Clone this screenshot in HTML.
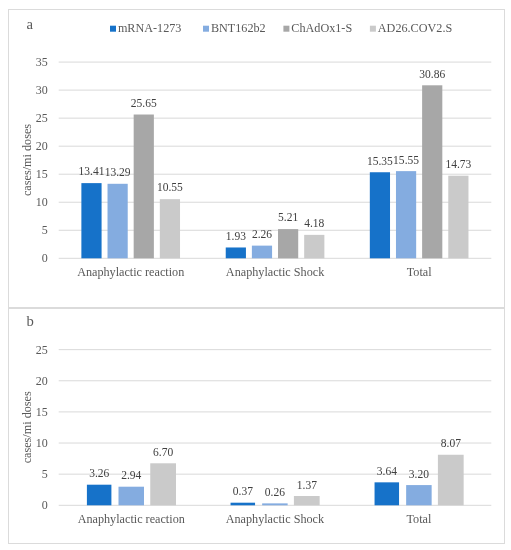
<!DOCTYPE html>
<html><head><meta charset="utf-8"><title>Chart</title>
<style>html,body{margin:0;padding:0;background:#fff}svg{display:block}</style></head>
<body>
<svg width="511" height="550" viewBox="0 0 511 550" font-family="'Liberation Serif', serif" font-size="12px">
<rect x="0" y="0" width="511" height="550" fill="#fff"/>
<rect x="8.5" y="9.5" width="496" height="298" fill="none" stroke="#dbdbdb" stroke-width="1"/>
<rect x="8.5" y="308.5" width="496" height="235" fill="none" stroke="#dbdbdb" stroke-width="1"/>
<text x="26.5" y="29" font-size="14.67px" fill="#595959">a</text>
<text x="26.5" y="326" font-size="14.67px" fill="#595959">b</text>
<rect x="110" y="25.7" width="6" height="6" fill="#1672c9"/>
<text x="117.9" y="32.3" font-size="12.18px" fill="#595959">mRNA-1273</text>
<rect x="203" y="25.7" width="6" height="6" fill="#84ace0"/>
<text x="210.9" y="32.3" font-size="12.18px" fill="#595959">BNT162b2</text>
<rect x="283.4" y="25.7" width="6" height="6" fill="#a7a7a7"/>
<text x="291.3" y="32.3" font-size="12.18px" fill="#595959">ChAdOx1-S</text>
<rect x="369.9" y="25.7" width="6" height="6" fill="#cacaca"/>
<text x="377.8" y="32.3" font-size="12.18px" fill="#595959">AD26.COV2.S</text>
<line x1="58.7" y1="258.30" x2="491.3" y2="258.30" stroke="#d9d9d9" stroke-width="1"/>
<text x="47.8" y="262.30" text-anchor="end" fill="#595959">0</text>
<line x1="58.7" y1="230.27" x2="491.3" y2="230.27" stroke="#d9d9d9" stroke-width="1"/>
<text x="47.8" y="234.27" text-anchor="end" fill="#595959">5</text>
<line x1="58.7" y1="202.24" x2="491.3" y2="202.24" stroke="#d9d9d9" stroke-width="1"/>
<text x="47.8" y="206.24" text-anchor="end" fill="#595959">10</text>
<line x1="58.7" y1="174.21" x2="491.3" y2="174.21" stroke="#d9d9d9" stroke-width="1"/>
<text x="47.8" y="178.21" text-anchor="end" fill="#595959">15</text>
<line x1="58.7" y1="146.18" x2="491.3" y2="146.18" stroke="#d9d9d9" stroke-width="1"/>
<text x="47.8" y="150.18" text-anchor="end" fill="#595959">20</text>
<line x1="58.7" y1="118.15" x2="491.3" y2="118.15" stroke="#d9d9d9" stroke-width="1"/>
<text x="47.8" y="122.15" text-anchor="end" fill="#595959">25</text>
<line x1="58.7" y1="90.12" x2="491.3" y2="90.12" stroke="#d9d9d9" stroke-width="1"/>
<text x="47.8" y="94.12" text-anchor="end" fill="#595959">30</text>
<line x1="58.7" y1="62.09" x2="491.3" y2="62.09" stroke="#d9d9d9" stroke-width="1"/>
<text x="47.8" y="66.09" text-anchor="end" fill="#595959">35</text>
<text transform="translate(30.5,160) rotate(-90)" text-anchor="middle" font-size="12.2px" fill="#595959">cases/mi doses</text>
<rect x="81.38" y="183.12" width="20.20" height="75.18" fill="#1672c9"/>
<text x="91.47" y="175.32" text-anchor="middle" textLength="25.92" lengthAdjust="spacingAndGlyphs" fill="#404040">13.41</text>
<rect x="107.52" y="183.80" width="20.20" height="74.50" fill="#84ace0"/>
<text x="117.62" y="176.00" text-anchor="middle" textLength="25.92" lengthAdjust="spacingAndGlyphs" fill="#404040">13.29</text>
<rect x="133.67" y="114.51" width="20.20" height="143.79" fill="#a7a7a7"/>
<text x="143.77" y="106.71" text-anchor="middle" textLength="25.92" lengthAdjust="spacingAndGlyphs" fill="#404040">25.65</text>
<rect x="159.82" y="199.16" width="20.20" height="59.14" fill="#cacaca"/>
<text x="169.92" y="191.36" text-anchor="middle" textLength="25.92" lengthAdjust="spacingAndGlyphs" fill="#404040">10.55</text>
<text x="130.70" y="276.10" text-anchor="middle" font-size="12.18px" fill="#595959">Anaphylactic reaction</text>
<rect x="225.73" y="247.48" width="20.20" height="10.82" fill="#1672c9"/>
<text x="235.83" y="239.68" text-anchor="middle" textLength="20.16" lengthAdjust="spacingAndGlyphs" fill="#404040">1.93</text>
<rect x="251.88" y="245.63" width="20.20" height="12.67" fill="#84ace0"/>
<text x="261.98" y="237.83" text-anchor="middle" textLength="20.16" lengthAdjust="spacingAndGlyphs" fill="#404040">2.26</text>
<rect x="278.02" y="229.09" width="20.20" height="29.21" fill="#a7a7a7"/>
<text x="288.12" y="221.29" text-anchor="middle" textLength="20.16" lengthAdjust="spacingAndGlyphs" fill="#404040">5.21</text>
<rect x="304.17" y="234.87" width="20.20" height="23.43" fill="#cacaca"/>
<text x="314.27" y="227.07" text-anchor="middle" textLength="20.16" lengthAdjust="spacingAndGlyphs" fill="#404040">4.18</text>
<text x="275.05" y="276.10" text-anchor="middle" font-size="12.18px" fill="#595959">Anaphylactic Shock</text>
<rect x="369.82" y="172.25" width="20.20" height="86.05" fill="#1672c9"/>
<text x="379.92" y="165.45" text-anchor="middle" textLength="25.92" lengthAdjust="spacingAndGlyphs" fill="#404040">15.35</text>
<rect x="395.97" y="171.13" width="20.20" height="87.17" fill="#84ace0"/>
<text x="406.07" y="164.33" text-anchor="middle" textLength="25.92" lengthAdjust="spacingAndGlyphs" fill="#404040">15.55</text>
<rect x="422.12" y="85.30" width="20.20" height="173.00" fill="#a7a7a7"/>
<text x="432.22" y="77.50" text-anchor="middle" textLength="25.92" lengthAdjust="spacingAndGlyphs" fill="#404040">30.86</text>
<rect x="448.27" y="175.72" width="20.20" height="82.58" fill="#cacaca"/>
<text x="458.38" y="167.92" text-anchor="middle" textLength="25.92" lengthAdjust="spacingAndGlyphs" fill="#404040">14.73</text>
<text x="419.15" y="276.10" text-anchor="middle" font-size="12.18px" fill="#595959">Total</text>
<line x1="58.7" y1="505.30" x2="491.3" y2="505.30" stroke="#d9d9d9" stroke-width="1"/>
<text x="47.8" y="509.30" text-anchor="end" fill="#595959">0</text>
<line x1="58.7" y1="474.17" x2="491.3" y2="474.17" stroke="#d9d9d9" stroke-width="1"/>
<text x="47.8" y="478.17" text-anchor="end" fill="#595959">5</text>
<line x1="58.7" y1="443.04" x2="491.3" y2="443.04" stroke="#d9d9d9" stroke-width="1"/>
<text x="47.8" y="447.04" text-anchor="end" fill="#595959">10</text>
<line x1="58.7" y1="411.91" x2="491.3" y2="411.91" stroke="#d9d9d9" stroke-width="1"/>
<text x="47.8" y="415.91" text-anchor="end" fill="#595959">15</text>
<line x1="58.7" y1="380.78" x2="491.3" y2="380.78" stroke="#d9d9d9" stroke-width="1"/>
<text x="47.8" y="384.78" text-anchor="end" fill="#595959">20</text>
<line x1="58.7" y1="349.65" x2="491.3" y2="349.65" stroke="#d9d9d9" stroke-width="1"/>
<text x="47.8" y="353.65" text-anchor="end" fill="#595959">25</text>
<text transform="translate(30.5,427.3) rotate(-90)" text-anchor="middle" font-size="12.2px" fill="#595959">cases/mi doses</text>
<rect x="86.90" y="484.70" width="24.50" height="20.60" fill="#1672c9"/>
<text x="99.30" y="477.20" text-anchor="middle" textLength="20.16" lengthAdjust="spacingAndGlyphs" fill="#404040">3.26</text>
<rect x="118.50" y="486.70" width="25.50" height="18.60" fill="#84ace0"/>
<text x="131.25" y="479.20" text-anchor="middle" textLength="20.16" lengthAdjust="spacingAndGlyphs" fill="#404040">2.94</text>
<rect x="150.25" y="463.29" width="25.75" height="42.01" fill="#cacaca"/>
<text x="163.20" y="455.79" text-anchor="middle" textLength="20.16" lengthAdjust="spacingAndGlyphs" fill="#404040">6.70</text>
<text x="131.25" y="523.10" text-anchor="middle" font-size="12.18px" fill="#595959">Anaphylactic reaction</text>
<rect x="230.55" y="502.70" width="24.50" height="2.60" fill="#1672c9"/>
<text x="242.95" y="495.20" text-anchor="middle" textLength="20.16" lengthAdjust="spacingAndGlyphs" fill="#404040">0.37</text>
<rect x="262.15" y="503.38" width="25.50" height="1.92" fill="#84ace0"/>
<text x="274.90" y="495.88" text-anchor="middle" textLength="20.16" lengthAdjust="spacingAndGlyphs" fill="#404040">0.26</text>
<rect x="293.90" y="496.02" width="25.75" height="9.28" fill="#cacaca"/>
<text x="306.85" y="488.97" text-anchor="middle" textLength="20.16" lengthAdjust="spacingAndGlyphs" fill="#404040">1.37</text>
<text x="274.90" y="523.10" text-anchor="middle" font-size="12.18px" fill="#595959">Anaphylactic Shock</text>
<rect x="374.55" y="482.34" width="24.50" height="22.96" fill="#1672c9"/>
<text x="386.95" y="474.84" text-anchor="middle" textLength="20.16" lengthAdjust="spacingAndGlyphs" fill="#404040">3.64</text>
<rect x="406.15" y="485.08" width="25.50" height="20.22" fill="#84ace0"/>
<text x="418.90" y="477.58" text-anchor="middle" textLength="20.16" lengthAdjust="spacingAndGlyphs" fill="#404040">3.20</text>
<rect x="437.90" y="454.76" width="25.75" height="50.54" fill="#cacaca"/>
<text x="450.85" y="447.26" text-anchor="middle" textLength="20.16" lengthAdjust="spacingAndGlyphs" fill="#404040">8.07</text>
<text x="418.90" y="523.10" text-anchor="middle" font-size="12.18px" fill="#595959">Total</text>
</svg>
</body></html>
